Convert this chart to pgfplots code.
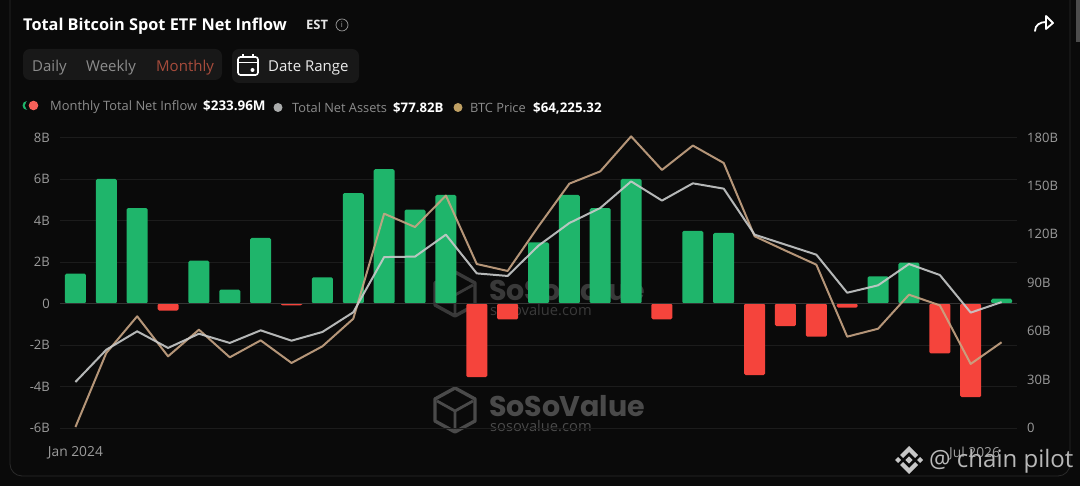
\documentclass[border=0pt]{standalone}
\usepackage{pgfplots}
\usepackage{fontspec}
\pgfplotsset{compat=1.18}
\setmainfont{Open Sans}
\newfontfamily\wm{Poppins}
\definecolor{bg}{HTML}{0A0A0A}
\definecolor{pill}{HTML}{181818}
\definecolor{frame}{HTML}{2A2A2A}
\definecolor{gridc}{HTML}{1C1C1C}
\definecolor{zeroc}{HTML}{343434}
\definecolor{ticktxt}{HTML}{9C9C9C}
\definecolor{legtxt}{HTML}{8C8C8C}
\definecolor{upc}{HTML}{1FB56B}
\definecolor{downc}{HTML}{F5443C}
\definecolor{assetc}{HTML}{C8CACA}
\definecolor{btcc}{HTML}{C8A584}
\definecolor{btcdot}{HTML}{BFA063}
\definecolor{wmc}{HTML}{4A4A4A}
\definecolor{monthc}{HTML}{A84C3C}
\newcommand{\fs}[1]{\fontsize{#1pt}{#1pt}\selectfont}
\pgfplotstableread{
i v
0 1.44
1 6.00
2 4.60
4 2.06
5 0.67
6 3.16
8 1.26
9 5.32
10 6.47
11 4.52
12 5.23
15 2.94
16 5.23
17 4.60
18 6.00
20 3.50
21 3.40
26 1.31
27 1.97
30 0.23
}\up
\pgfplotstableread{
i v
3 -0.34
7 -0.09
13 -3.55
14 -0.77
19 -0.76
22 -3.45
23 -1.09
24 -1.60
25 -0.20
28 -2.41
29 -4.51
}\down
\pgfplotstableread{
i a b
0 28.5 0.6
1 48.5 46.5
2 59.9 69.2
3 49.6 44.4
4 58.4 60.9
5 52.7 43.8
6 60.5 54.3
7 54.1 40.3
8 59.5 50.6
9 71.7 67.7
10 105.9 132.8
11 106.2 124.5
12 119.8 144.0
13 95.8 101.6
14 94.2 97.3
15 113.0 125.0
16 127.0 151.4
17 136.3 159.0
18 152.8 180.7
19 140.9 159.9
20 151.6 175.0
21 148.3 164.2
22 119.8 118.8
23 113.6 109.9
24 107.4 101.2
25 83.8 56.6
26 88.4 61.5
27 101.6 82.6
28 94.8 76.0
29 71.5 39.7
30 78.0 53.1
}\lines
\begin{document}
\begin{tikzpicture}[x=1pt,y=1pt]
% canvas: coordinates in reference pixels, y measured from the bottom
\fill[bg] (0,0) rectangle (1080,486);
\begin{scope}
\clip (0,0) rectangle (1080,486);
\draw[frame,line width=0.8pt,rounded corners=12pt] (10,500) -- (10,10) -- (1070,10) -- (1070,500);
\end{scope}
\fill[black!70] (1076,444) rectangle (1080,486);
% header
\node[anchor=base west,text=white,inner sep=0pt] at (23,455) {\fs{16.3}\bfseries Total Bitcoin Spot ETF Net Inflow};
\node[anchor=base west,text=white!90!black,inner sep=0pt] at (306,456) {\fs{13}\bfseries EST};
\draw[ticktxt,line width=0.7pt] (342,461) circle (6pt);
\node[text=ticktxt,inner sep=0pt] at (342,461) {\fs{8}i};
\fill[pill,rounded corners=7pt] (23,406) rectangle (222,437);
\fill[pill,rounded corners=7pt] (232,403) rectangle (359,437);
\node[anchor=base west,text=legtxt,inner sep=0pt] at (32,414) {\fs{15}Daily};
\node[anchor=base west,text=legtxt,inner sep=0pt] at (86,414) {\fs{15}Weekly};
\node[anchor=base west,text=monthc,inner sep=0pt] at (156,414) {\fs{15}Monthly};
\draw[white,line width=1.6pt,rounded corners=2.5pt] (238,411) rectangle (258,429);
\draw[white,line width=1.6pt] (238,423.5) -- (258,423.5) (243,429) -- (243,432) (253,429) -- (253,432);
\fill[white] (252.5,416) circle (2pt);
\node[anchor=base west,text=white!92!black,inner sep=0pt] at (268,414) {\fs{15}Date Range};
% legend row
\fill[upc] (27,380.5) circle (4.5pt);
\fill[bg] (30.5,380.5) circle (5.6pt);
\fill[downc!85!white] (33.5,380.5) circle (4.8pt);
\node[anchor=base west,text=legtxt,inner sep=0pt] at (50,375) {\fs{12.9}Monthly Total Net Inflow};
\node[anchor=base west,text=white,inner sep=0pt] at (203,375) {\fs{13.4}\bfseries\$233.96M};
\fill[assetc!85!black] (278,378.5) circle (4.5pt);
\node[anchor=base west,text=legtxt,inner sep=0pt] at (292,373.5) {\fs{12.8}Total Net Assets};
\node[anchor=base west,text=white,inner sep=0pt] at (393,373.5) {\fs{13.2}\bfseries\$77.82B};
\fill[btcdot] (458,378.5) circle (4.5pt);
\node[anchor=base west,text=legtxt,inner sep=0pt] at (470,373.5) {\fs{12.8}BTC Price};
\node[anchor=base west,text=white,inner sep=0pt] at (533,373.5) {\fs{13.3}\bfseries\$64,225.32};
% share icon
\draw[white,line width=1.8pt,line join=round,line cap=round] (1035,455) .. controls (1035,461) and (1040,464) .. (1046,464);
\draw[white,line width=1.8pt,line join=round] (1046,470) -- (1053,463) -- (1046,457) -- cycle;
% watermarks (behind the plot)
\foreach \yy/\op in {76/1,192/0.75}{
  \begin{scope}[opacity=\op]
  \draw[wmc,line width=3.4pt,line join=round] (455,\yy+22) -- (475,\yy+11) -- (475,\yy-11) -- (455,\yy-22) -- (435,\yy-11) -- (435,\yy+11) -- cycle;
  \draw[wmc,line width=2.8pt,line join=round] (437,\yy+9) -- (455,\yy-1) -- (473,\yy+9) (455,\yy-1) -- (455,\yy-20);
  \node[anchor=base west,text=wmc,inner sep=0pt] at (489,\yy-7) {\wm\fs{28.5}\bfseries SoSo\kern-1pt Value};
  \node[anchor=base west,text=wmc,inner sep=0pt] at (490,\yy-22) {\fs{14.7}sosovalue.com};
  \end{scope}
}
\begin{axis}[
  at={(60pt,58pt)},anchor=south west,scale only axis,width=957pt,height=290.5pt,
  xmin=-0.5,xmax=30.5,ymin=-6,ymax=8,
  axis line style={draw=none},
  axis y line*=left,axis x line*=bottom,
  major tick length=0pt,
  ytick={-6,-4,-2,0,2,4,6,8},
  yticklabels={-6B,-4B,-2B,0,2B,4B,6B,8B},
  xtick={0},xticklabels={Jan 2024},
  extra x ticks={30},extra x tick labels={Jul 2026},
  extra x tick style={xticklabel style={xshift=-27pt},major tick length=0pt},
  ymajorgrids,grid style={gridc,line width=0.8pt},
  tick label style={text=ticktxt,font=\fs{13}},
  yticklabel style={xshift=-10pt,anchor=east,inner xsep=0pt},
  xticklabel style={yshift=-15pt,font=\fs{13.8}},
  clip=false,
  ybar,bar shift=0pt,bar width=21pt,
]
\addplot[draw=none,fill=upc,rounded corners=1.5pt] table[x=i,y=v] {\up};
\addplot[draw=none,fill=downc,rounded corners=1.5pt] table[x=i,y=v] {\down};
\draw[zeroc,line width=0.7pt] (axis cs:-0.5,0) -- (axis cs:30.5,0);
\end{axis}
\begin{axis}[
  at={(60pt,58pt)},anchor=south west,scale only axis,width=957pt,height=290.5pt,
  xmin=-0.5,xmax=30.5,ymin=0,ymax=180,
  axis line style={draw=none},
  axis y line*=right,axis x line=none,
  major tick length=0pt,
  ytick={0,30,60,90,120,150,180},
  yticklabels={0,30B,60B,90B,120B,150B,180B},
  tick label style={text=ticktxt,font=\fs{13}},
  yticklabel style={anchor=west,xshift=10pt,inner xsep=0pt},
  clip=false,
]
\addplot[btcc,opacity=0.9,line width=2pt,line join=round] table[x=i,y=b] {\lines};
\addplot[assetc,opacity=0.9,line width=2pt,line join=round] table[x=i,y=a] {\lines};
\end{axis}
% attribution overlay
\begin{scope}[shift={(909,26)}]
\fill[white!78!black] (0,14) -- (9,5) -- (6,2) -- (0,8) -- (-6,2) -- (-9,5) -- cycle;
\fill[white!78!black] (0,-14) -- (9,-5) -- (6,-2) -- (0,-8) -- (-6,-2) -- (-9,-5) -- cycle;
\fill[white!78!black] (-3.6,0) -- (0,3.6) -- (3.6,0) -- (0,-3.6) -- cycle;
\fill[white!78!black] (-14,0) -- (-11,3) -- (-8,0) -- (-11,-3) -- cycle;
\fill[white!78!black] (14,0) -- (11,3) -- (8,0) -- (11,-3) -- cycle;
\end{scope}
\node[anchor=base west,text=white!72!black,inner sep=0pt] at (929,18) {\fs{24}@ chain pilot};
\end{tikzpicture}
\end{document}
